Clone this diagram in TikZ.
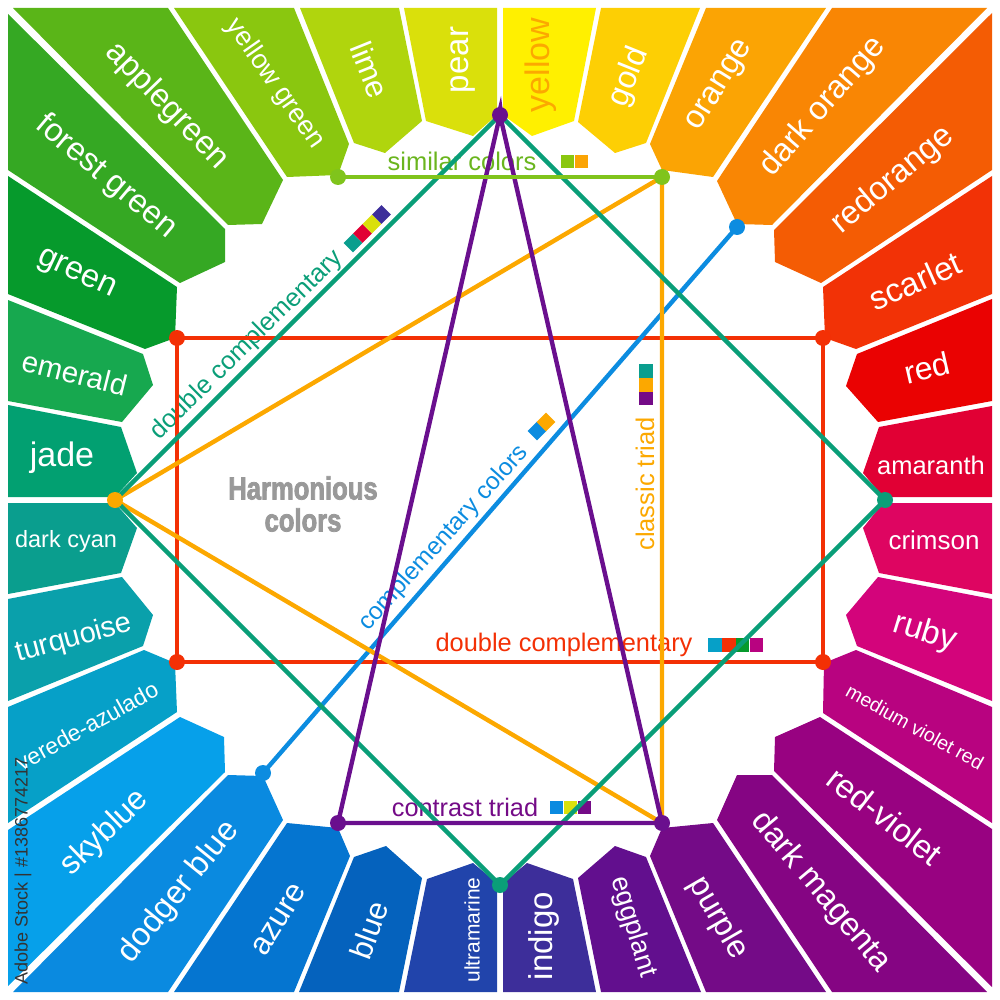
\documentclass[tikz,border=0pt]{standalone}
\usepackage{fontspec}
\setmainfont{Liberation Sans}
\newfontfamily\harmfont[FakeBold=2.4,FakeStretch=0.8]{Liberation Sans Bold}
\usepackage{xcolor}
\usetikzlibrary{positioning}
\definecolor{hpear}{HTML}{DAE00B}
\definecolor{hlime}{HTML}{B0D50D}
\definecolor{hyellowgreen}{HTML}{8AC70F}
\definecolor{happle}{HTML}{5AB518}
\definecolor{hforest}{HTML}{35A823}
\definecolor{hgreen}{HTML}{069A2C}
\definecolor{hemerald}{HTML}{17A84F}
\definecolor{hjade}{HTML}{02A071}
\definecolor{hdarkcyan}{HTML}{0A9E8E}
\definecolor{hturquoise}{HTML}{0AA0AB}
\definecolor{hverede}{HTML}{06A0C8}
\definecolor{hsky}{HTML}{06A0EA}
\definecolor{hdodger}{HTML}{0A8AE0}
\definecolor{hazure}{HTML}{0575D0}
\definecolor{hblue}{HTML}{0562BD}
\definecolor{hultra}{HTML}{2144AB}
\definecolor{hindigo}{HTML}{3D2E9A}
\definecolor{heggplant}{HTML}{620F8E}
\definecolor{hpurple}{HTML}{740B87}
\definecolor{hmagenta}{HTML}{850583}
\definecolor{hredviolet}{HTML}{980281}
\definecolor{hmedium}{HTML}{B80380}
\definecolor{hruby}{HTML}{D3047B}
\definecolor{hcrimson}{HTML}{DE0561}
\definecolor{hamaranth}{HTML}{E10034}
\definecolor{hred}{HTML}{EA0202}
\definecolor{hscarlet}{HTML}{F23206}
\definecolor{hredorange}{HTML}{F45C04}
\definecolor{hdarkorange}{HTML}{F98604}
\definecolor{horange}{HTML}{FBA404}
\definecolor{hgold}{HTML}{FDCF04}
\definecolor{hyellow}{HTML}{FFF000}
\definecolor{linered}{HTML}{F33005}
\definecolor{lineteal}{HTML}{0A9E78}
\definecolor{lineorange}{HTML}{FCA800}
\definecolor{linegreen}{HTML}{80C41C}
\definecolor{textgreen}{HTML}{6AB51E}
\definecolor{lineblue}{HTML}{0C8CE0}
\definecolor{linepurple}{HTML}{6A0F8E}
\newcommand{\pxfont}[1]{\fontsize{#1}{#1}\selectfont}
\pgfdeclarelayer{wheel}
\pgfdeclarelayer{lines}
\pgfdeclarelayer{dots}
\pgfsetlayers{wheel,main,lines,dots}

\begin{document}
\begin{tikzpicture}[
    x=1pt, y=-1pt,
    hue/.style={inner sep=0pt, text=white},
    dot/.style={circle, inner sep=0pt, minimum size=16pt},
    link/.style={line width=4.4pt, line join=miter},
    swatch/.style={rectangle, inner sep=0pt, minimum size=13.4pt},
    tag/.style={inner sep=0pt}
]
\useasboundingbox (0,0) rectangle (1000,1000);

% Wheel segments, clockwise from the top
\begin{pgfonlayer}{wheel}
\fill[hyellow] (503,8) -- (596,8) -- (574,121) -- (532,136) -- (503,115) -- cycle;
\fill[hgold] (601,8) -- (700,8) -- (646,143) -- (615,153) -- (578,122) -- cycle;
\fill[horange] (706,8) -- (826,8) -- (713,177) -- (662,170) -- (650,144) -- cycle;
\fill[hdarkorange] (832,8) -- (987,8) -- (772,225) -- (737,224) -- (717,181) -- cycle;
\fill[hredorange] (992,13) -- (992,170) -- (821,283) -- (775,262) -- (774,230) -- cycle;
\fill[hscarlet] (992,176) -- (992,294) -- (856,349) -- (825,338) -- (823,287) -- cycle;
\fill[hred] (992,299) -- (992,401) -- (878,422) -- (846,386) -- (857,354) -- cycle;
\fill[hamaranth] (992,406) -- (992,497) -- (883,497) -- (863,473) -- (879,427) -- cycle;
\fill[hcrimson] (992,503) -- (992,594) -- (879,573) -- (863,528) -- (883,503) -- cycle;
\fill[hruby] (992,599) -- (992,701) -- (857,646) -- (846,615) -- (878,577) -- cycle;
\fill[hmedium] (992,707) -- (992,823) -- (823,713) -- (824,663) -- (856,650) -- cycle;
\fill[hredviolet] (992,829) -- (992,987) -- (774,771) -- (775,737) -- (820,717) -- cycle;
\fill[hmagenta] (987,992) -- (832,992) -- (717,820) -- (737,775) -- (772,775) -- cycle;
\fill[hpurple] (826,992) -- (706,992) -- (650,856) -- (662,828) -- (713,823) -- cycle;
\fill[heggplant] (701,992) -- (601,992) -- (578,878) -- (615,846) -- (646,857) -- cycle;
\fill[hindigo] (596,992) -- (503,992) -- (503,883) -- (527,863) -- (573,879) -- cycle;
\fill[hultra] (497,992) -- (404,992) -- (427,879) -- (473,863) -- (497,883) -- cycle;
\fill[hblue] (399,992) -- (299,992) -- (354,857) -- (386,846) -- (422,878) -- cycle;
\fill[hazure] (294,992) -- (174,992) -- (287,823) -- (338,828) -- (350,856) -- cycle;
\fill[hdodger] (168,992) -- (13,992) -- (228,775) -- (263,776) -- (283,820) -- cycle;
\fill[hsky] (8,986) -- (8,830) -- (180,717) -- (224,737) -- (225,772) -- cycle;
\fill[hverede] (8,823) -- (8,707) -- (144,650) -- (175,663) -- (177,712) -- cycle;
\fill[hturquoise] (8,701) -- (8,599) -- (122,577) -- (153,615) -- (143,646) -- cycle;
\fill[hdarkcyan] (8,594) -- (8,503) -- (115,503) -- (137,528) -- (121,573) -- cycle;
\fill[hjade] (8,497) -- (8,405) -- (121,427) -- (137,473) -- (115,497) -- cycle;
\fill[hemerald] (8,401) -- (8,300) -- (143,354) -- (153,385) -- (122,422) -- cycle;
\fill[hgreen] (8,294) -- (8,176) -- (177,287) -- (175,338) -- (145,349) -- cycle;
\fill[hforest] (8,170) -- (8,14) -- (225,229) -- (225,262) -- (180,283) -- cycle;
\fill[happle] (13,8) -- (168,8) -- (283,180) -- (262,224) -- (228,225) -- cycle;
\fill[hyellowgreen] (174,8) -- (294,8) -- (349,144) -- (338,175) -- (287,177) -- cycle;
\fill[hlime] (300,8) -- (399,8) -- (422,121) -- (385,153) -- (354,143) -- cycle;
\fill[hpear] (404,8) -- (497,8) -- (497,115) -- (473,136) -- (426,121) -- cycle;
\end{pgfonlayer}

% Segment names
\node[hue, text=lineorange, rotate=90, font=\pxfont{34}] (yellow) at (541,65) {yellow};
\node[hue, rotate=68, font=\pxfont{32}] (gold) at (629,77) {gold};
\node[hue, rotate=58, font=\pxfont{32.5}] (orange) at (721,86) {orange};
\node[hue, rotate=49, font=\pxfont{32.5}] (darkorange) at (823,107) {dark orange};
\node[hue, rotate=40, font=\pxfont{32.5}] (redorange) at (893,180) {redorange};
\node[hue, rotate=24, font=\pxfont{33}] (scarlet) at (915,281) {scarlet};
\node[hue, rotate=13, font=\pxfont{32}] (red) at (927,368) {red};
\node[hue, font=\pxfont{25.5}] (amaranth) at (931,465) {amaranth};
\node[hue, font=\pxfont{26}] (crimson) at (934,540) {crimson};
\node[hue, rotate=-17, font=\pxfont{33}] (ruby) at (925,633) {ruby};
\node[hue, rotate=-29, font=\pxfont{19.5}] (mediumvr) at (915,727) {medium violet red};
\node[hue, rotate=-38, font=\pxfont{33}] (redviolet) at (885,816) {red-violet};
\node[hue, rotate=-50, font=\pxfont{32.5}] (darkmagenta) at (821,892) {dark magenta};
\node[hue, rotate=-60, font=\pxfont{32}] (purple) at (718,918) {purple};
\node[hue, rotate=-73, font=\pxfont{27}] (eggplant) at (633,927) {eggplant};
\node[hue, rotate=90, font=\pxfont{33}] (indigo) at (544,936) {indigo};
\node[hue, rotate=90, font=\pxfont{21}] (ultramarine) at (472,930) {ultramarine};
\node[hue, rotate=70, font=\pxfont{31}] (blue) at (369,930) {blue};
\node[hue, rotate=58, font=\pxfont{31.5}] (azure) at (279,920) {azure};
\node[hue, rotate=51, font=\pxfont{32.5}] (dodgerblue) at (179,892) {dodger blue};
\node[hue, rotate=44, font=\pxfont{32}] (skyblue) at (105,833) {skyblue};
\node[hue, rotate=29, font=\pxfont{23}] (verede) at (87,726) {verede-azulado};
\node[hue, rotate=15, font=\pxfont{29}] (turquoise) at (74,639) {turquoise};
\node[hue, font=\pxfont{23.5}] (darkcyan) at (66,541) {dark cyan};
\node[hue, font=\pxfont{34}] (jade) at (62,458) {jade};
\node[hue, rotate=-14, font=\pxfont{29.5}] (emerald) at (75,373) {emerald};
\node[hue, rotate=-25, font=\pxfont{32.5}] (green) at (76,275) {green};
\node[hue, rotate=-40, font=\pxfont{32.5}] (forestgreen) at (106,177) {forest green};
\node[hue, rotate=-46, font=\pxfont{32.5}] (applegreen) at (167,106) {applegreen};
\node[hue, rotate=-55, font=\pxfont{27}] (yellowgreen) at (275,84) {yellow green};
\node[hue, rotate=-68, font=\pxfont{31}] (lime) at (370,70) {lime};
\node[hue, rotate=90, font=\pxfont{33}] (pear) at (463,60) {pear};

% Line end points
\begin{pgfonlayer}{dots}
\fill[linepurple] (497,112) -- (503,112) -- (501,96) -- cycle;
\node[dot, fill=linepurple] (top) at (500,115) {};
\node[dot, fill=lineteal] (right) at (885,500) {};
\node[dot, fill=lineteal] (bottom) at (500,885) {};
\node[dot, fill=lineorange] (left) at (115,500) {};
\node[dot, fill=linegreen] (simleft) at (338,177) {};
\node[dot, fill=linegreen] (simright) at (662,177) {};
\node[dot, fill=linepurple] (conleft) at (338,823) {};
\node[dot, fill=linepurple] (conright) at (662,823) {};
\node[dot, fill=lineblue] (compa) at (737,227) {};
\node[dot, fill=lineblue] (compb) at (263,773) {};
\node[dot, fill=linered] (rectnw) at (177,338) {};
\node[dot, fill=linered] (rectne) at (823,338) {};
\node[dot, fill=linered] (rectse) at (823,662) {};
\node[dot, fill=linered] (rectsw) at (177,662) {};
\end{pgfonlayer}

% Connectors
\begin{pgfonlayer}{lines}
\draw[link, linered] (rectnw.center) -- (rectne.center) -- (rectse.center) -- (rectsw.center) -- cycle;
\draw[link, lineblue] (compa.center) -- (compb.center);
\draw[link, lineorange] (left.center) -- (simright.center) -- (conright.center) -- cycle;
\draw[link, lineteal] (top.center) -- (right.center) -- (bottom.center) -- (left.center) -- cycle;
\draw[link, linepurple] (top.center) -- (conright.center) -- (conleft.center) -- cycle;
\draw[link, linegreen] (simleft.center) -- (simright.center);
\end{pgfonlayer}

% Harmony labels and their colour chips
\node[tag, text=textgreen, font=\pxfont{25.5}] (lsimilar) at (462,161) {similar colors};
\node[swatch, fill=hyellowgreen] (s1a) at (567.7,161.7) {};
\node[swatch, fill=horange, right=0pt of s1a] (s1b) {};

\node[tag, text=lineteal, rotate=44.5, font=\pxfont{25.5}] (ldouble) at (247,345) {double complementary};
\node[swatch, rotate=45, fill=hdarkcyan] (s2a) at (353,243) {};
\node[swatch, rotate=45, fill=hamaranth] (s2b) at (362.5,233.5) {};
\node[swatch, rotate=45, fill=hpear] (s2c) at (372,224) {};
\node[swatch, rotate=45, fill=hindigo] (s2d) at (381.5,214.5) {};

\node[tag, text=lineorange, rotate=90, font=\pxfont{25.5}] (lclassic) at (645,484) {classic triad};
\node[swatch, fill=hdarkcyan] (s3a) at (646,371) {};
\node[swatch, fill=lineorange, below=0pt of s3a] (s3b) {};
\node[swatch, fill=hpurple, below=0pt of s3b] (s3c) {};

\node[tag, text=lineblue, rotate=48, font=\pxfont{24.5}] (lcomp) at (444,538) {complementary colors};
\node[swatch, rotate=45, fill=lineblue] (s4a) at (537,431) {};
\node[swatch, rotate=45, fill=lineorange] (s4b) at (546,422) {};

\node[tag, text=linered, font=\pxfont{25.4}] (lred) at (564,645) {double complementary};
\node[swatch, fill=hverede] (s5a) at (715,645) {};
\node[swatch, fill=linered, right=0pt of s5a] (s5b) {};
\node[swatch, fill=hgreen, right=0pt of s5b] (s5c) {};
\node[swatch, fill=hmedium, right=0pt of s5c] (s5d) {};

\node[tag, text=hpurple, font=\pxfont{25.3}] (lcontrast) at (465,807) {contrast triad};
\node[swatch, fill=hdodger] (s6a) at (556.7,807.5) {};
\node[swatch, fill=hpear, right=0pt of s6a] (s6b) {};
\node[swatch, fill=hpurple, right=0pt of s6b] (s6c) {};

\node[tag, text=black!40, font=\harmfont\pxfont{32}] (lharm1) at (303,488) {Harmonious};
\node[tag, text=black!40, font=\harmfont\pxfont{32}] (lharm2) at (303,520) {colors};

\node[tag, text=black!80, rotate=90, font=\pxfont{18}] (stock) at (23,871) {Adobe Stock | \#1386774217};
\end{tikzpicture}
\end{document}
